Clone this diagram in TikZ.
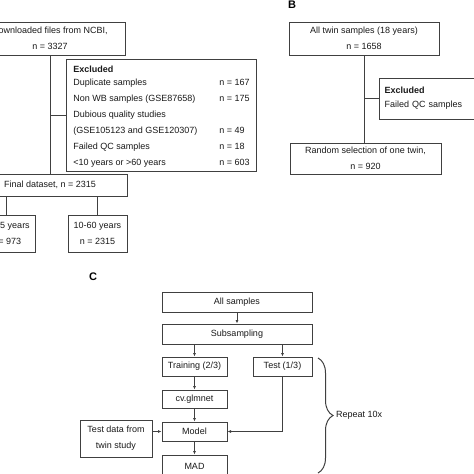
\documentclass[tikz,border=0pt]{standalone}
\usepackage{fontspec}
\setmainfont{Liberation Sans}
\usetikzlibrary{positioning,arrows.meta,decorations.pathreplacing}

\tikzset{
  box/.style={draw=black!75, line width=1pt, rectangle, inner sep=0pt, align=center,
    font=\fontsize{9}{15.5}\selectfont, text=black!90},
  exclbox/.style={box, anchor=north west, inner xsep=5pt, inner ysep=1pt, align=left},
  link/.style={draw=black!75, line width=1pt},
  arr/.style={link, -{Latex[length=3.5pt,width=3pt]}},
  panel/.style={font=\fontsize{11}{13}\selectfont\bfseries, text=black},
  brace/.style={link, decorate, decoration={brace, amplitude=15pt}},
}

\begin{document}
\begin{tikzpicture}[x=1pt, y=-1pt]
\useasboundingbox (0,0) rectangle (474,474);

% panel A
\node (ncbi) [box, minimum width=150pt, minimum height=33pt] at (50,38.5) {Downloaded files from NCBI,\\n = 3327};
\node (exclA) [exclbox, minimum width=190pt, minimum height=112pt, font=\fontsize{9}{16}\selectfont] at (66,59)
  {\begin{tabular}{@{}p{146pt}@{}l@{}}
    \textbf{Excluded} & \\[-3pt]
    Duplicate samples & n = 167\\
    Non WB samples (GSE87658) & n = 175\\
    Dubious quality studies & \\
    (GSE105123 and GSE120307) & n = 49\\
    Failed QC samples & n = 18\\
    <10 years or >60 years & n = 603
  \end{tabular}};
\node (finalA) [box, minimum width=154pt, minimum height=22pt] at (50,185) {Final dataset, n = 2315};
\node (young) [box, minimum width=58pt, minimum height=37pt, font=\fontsize{9}{16}\selectfont] at (6,233.5) {10-25 years\\n = 973};
\node (adult) [box, minimum width=59pt, minimum height=37pt, font=\fontsize{9}{16}\selectfont] at (97.5,233.5) {10-60 years\\n = 2315};

\draw[link] (ncbi.south) -- (finalA.north);
\draw[link] (exclA.west -| ncbi.south) -- (exclA.west);
\draw[link] (young.north |- finalA.south) -- (young.north);
\draw[link] (adult.north |- finalA.south) -- (adult.north);

% panel B
\node (labelB) [panel] at (292,5) {B};
\node (twins) [box, minimum width=150pt, minimum height=33pt] at (364,38.5) {All twin samples (18 years)\\n = 1658};
\node (exclB) [exclbox, anchor=west, text width=91pt, minimum height=41pt, font=\fontsize{9}{14}\selectfont] at (379,98.5)
  {\textbf{Excluded}\\Failed QC samples};
\node (random) [box, minimum width=151pt, minimum height=31pt] at (365.5,158.5) {Random selection of one twin,\\n = 920};

\draw[link] (twins.south) -- (twins.south |- random.north);
\draw[link] (exclB.west -| twins.south) -- (exclB.west);

% panel C
\node (labelC) [panel] at (93,277) {C};
\node (all) [box, minimum width=150pt, minimum height=20pt] at (237,302) {All samples};
\node (sub) [box, minimum width=150pt, minimum height=20pt] at (237,334) {Subsampling};
\node (training) [box, minimum width=65pt, minimum height=19pt] at (194.5,366.5) {Training (2/3)};
\node (test) [box, minimum width=59pt, minimum height=19pt] at (282.5,366.5) {Test (1/3)};
\node (cv) [box, minimum width=65pt, minimum height=18pt] at (194.5,399) {cv.glmnet};
\node (model) [box, minimum width=65pt, minimum height=19pt] at (194.5,431.5) {Model};
\node (mad) [box, minimum width=65pt, minimum height=22pt] at (194.5,466) {MAD};
\node (twindata) [box, minimum width=72pt, minimum height=37pt, font=\fontsize{9}{16}\selectfont] at (116,438.5) {Test data from\\twin study};

\draw[arr] (all) -- (sub);
\draw[arr] (sub.south -| training.north) -- (training.north);
\draw[arr] (sub.south -| test.north) -- (test.north);
\draw[arr] (training) -- (cv);
\draw[arr] (cv) -- (model);
\draw[arr] (model) -- (mad);
\draw[arr] (model.west -| twindata.east) -- (model.west);
\draw[arr] (test.south) |- (model.east);

\coordinate (braceTop) at (318,358);
\coordinate (braceBot) at (318,473);
\draw[brace] (braceTop) -- (braceBot);
\node (repeat) [font=\fontsize{9}{10}\selectfont, text=black!90, anchor=west, inner sep=0pt] at (336,415.5) {Repeat 10x};
\end{tikzpicture}
\end{document}
